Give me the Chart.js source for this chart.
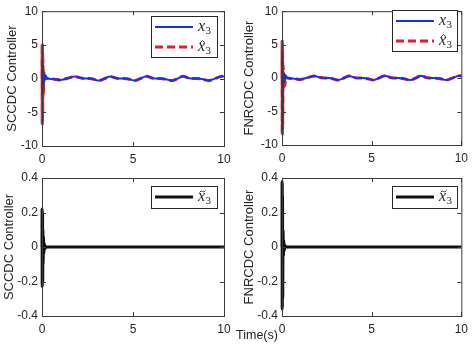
<!DOCTYPE html>
<html>
<head>
<meta charset="utf-8">
<script src="https://cdn.jsdelivr.net/npm/chart.js@4.4.1/dist/chart.umd.min.js"></script>
<style>
  html, body { margin: 0; background: #fff; }
  #wrap { position: relative; width: 474px; height: 347px; }
  #wrap canvas { position: absolute; left: 0; top: 0; }
</style>
</head>
<body>
<div id="wrap">
  <canvas id="c1" width="474" height="347"></canvas>
  <canvas id="c2" width="474" height="347"></canvas>
  <canvas id="c3" width="474" height="347"></canvas>
  <canvas id="c4" width="474" height="347"></canvas>
</div>
<script>
// tick values
const xTicks = [0, 5, 10];
const stateRange = [-10, 10];
const errorRange = [-0.4, 0.4];

// slow ripple after the start-up transient (same in both top plots)
const rippleT = [0.3, 0.6, 1.0, 1.4, 1.8, 2.2, 2.6, 2.9, 3.1, 3.4, 3.75, 4.1, 4.5, 4.8, 5.1, 5.4, 5.75, 6.1, 6.5, 6.8, 7.15, 7.45, 7.75, 8.1, 8.5, 8.85, 9.15, 9.5, 9.9, 10];
const rippleY = [0, -0.05, -0.2, 0.05, 0.3, 0.05, 0, -0.15, -0.3, -0.05, 0.3, 0.05, 0, -0.1, -0.3, 0, 0.35, 0.05, 0, -0.1, -0.3, 0, 0.35, 0.05, 0, -0.1, -0.3, 0, 0.35, 0.3];

// start-up transients
const sccdcT = [0, 0.005, 0.01, 0.015, 0.02, 0.025, 0.03, 0.035, 0.04, 0.05, 0.06, 0.07, 0.08, 0.1, 0.13, 0.16, 0.2, 0.25];
const sccdcX3 = [0, 2.8, -2.5, 2.6, -2.4, 2.5, -2.2, 2.2, -2.0, 1.8, -1.5, 1.2, -1.0, 0.8, -0.5, 0.3, 0.5, 0.1];
const sccdcX3hat = [0, 5.2, -6.7, 5.0, -6.5, 4.8, -6.2, 4.0, -5.0, 3.0, -2.5, 1.6, -2.2, 1.2, -0.5, 0.3, 0.3, 0.1];

const fnrcdcT = [0, 0.005, 0.01, 0.015, 0.02, 0.025, 0.03, 0.035, 0.04, 0.06, 0.09, 0.12, 0.16, 0.2, 0.25];
const fnrcdcX3 = [0, 4.0, -8.0, 3.8, -7.8, 3.5, -7.5, 3.0, -6.0, 1.0, -0.8, 0.6, -0.4, 0.4, 0.1];
const fnrcdcX3hat = [0, 5.5, -8.5, 5.3, -8.3, 5.0, -8.0, 4.5, -7.0, 2.0, -1.3, 0.7, -1.2, 0.3, 0.1];

// estimation error
const sccdcErrT = [0, 0.005, 0.01, 0.015, 0.02, 0.03, 0.04, 0.05, 0.06, 0.08, 0.1, 0.13, 0.16, 0.2, 0.3, 10];
const sccdcErr = [0, 0.22, -0.23, 0.21, -0.22, 0.2, -0.2, 0.1, -0.1, 0.06, -0.04, 0.02, -0.01, 0, 0, 0];
const fnrcdcErrT = [0, 0.005, 0.01, 0.015, 0.02, 0.03, 0.04, 0.06, 0.08, 0.1, 0.13, 0.16, 0.2, 0.3, 10];
const fnrcdcErr = [0, 0.38, -0.36, 0.37, -0.35, 0.3, -0.3, 0.1, -0.05, 0.04, -0.02, 0.01, 0, 0, 0];

const BLUE = '#1a2ef2';
const RED = '#f0182c';
const INK = '#262626';

Chart.defaults.font.family = '"Liberation Sans", Arial, sans-serif';
Chart.defaults.font.size = 12;
Chart.defaults.color = INK;

const toPts = (t, y) => t.map((v, i) => ({ x: v, y: y[i] }));

// MATLAB style box with inward ticks on all four sides
const boxAxes = {
  id: 'boxAxes',
  afterDatasetsDraw(chart) {
    const { ctx, chartArea: a, scales } = chart;
    ctx.save();
    ctx.strokeStyle = '#3a3a3a';
    ctx.lineWidth = 1;
    ctx.strokeRect(a.left + 0.5, a.top + 0.5, a.right - a.left, a.bottom - a.top);
    ctx.beginPath();
    scales.x.ticks.forEach(t => {
      const px = Math.round(scales.x.getPixelForValue(t.value)) + 0.5;
      ctx.moveTo(px, a.bottom); ctx.lineTo(px, a.bottom - 4);
      ctx.moveTo(px, a.top); ctx.lineTo(px, a.top + 4);
    });
    scales.y.ticks.forEach(t => {
      const py = Math.round(scales.y.getPixelForValue(t.value)) + 0.5;
      ctx.moveTo(a.left, py); ctx.lineTo(a.left + 4, py);
      ctx.moveTo(a.right, py); ctx.lineTo(a.right - 4, py);
    });
    ctx.stroke();
    ctx.restore();
  }
};

function drawSym(ctx, x, base, accent) {
  ctx.fillStyle = INK;
  ctx.font = 'italic 16px "Liberation Serif", serif';
  ctx.fillText('x', x, base);
  const wx = ctx.measureText('x').width;
  ctx.font = '11px "Liberation Serif", serif';
  ctx.fillText('3', x + wx + 0.5, base + 3);
  const cx = x + wx / 2 + 1;
  const top = base - 10;
  ctx.strokeStyle = INK;
  ctx.lineWidth = 0.9;
  ctx.beginPath();
  if (accent === 'hat') {
    ctx.moveTo(cx - 2.5, top + 2); ctx.lineTo(cx, top - 0.5); ctx.lineTo(cx + 2.5, top + 2);
  } else if (accent === 'tilde') {
    ctx.moveTo(cx - 3, top + 1.5);
    ctx.quadraticCurveTo(cx - 1.5, top - 1, cx, top + 0.5);
    ctx.quadraticCurveTo(cx + 1.5, top + 2, cx + 3, top - 0.5);
  }
  ctx.stroke();
}

// legend drawn inside the axes, upper right
const boxLegend = {
  id: 'boxLegend',
  afterDraw(chart, args, opts) {
    const { ctx } = chart;
    const [x, y, w, h] = opts.box;
    ctx.save();
    ctx.fillStyle = '#fff';
    ctx.fillRect(x, y, w, h);
    ctx.strokeStyle = INK;
    ctx.lineWidth = 1;
    ctx.strokeRect(x + 0.5, y + 0.5, w, h);
    chart.data.datasets.forEach((ds, i) => {
      const cy = y + opts.rowTop + i * 20;
      ctx.beginPath();
      ctx.setLineDash(ds.borderDash || []);
      ctx.strokeStyle = ds.borderColor;
      ctx.lineWidth = ds.borderWidth;
      ctx.moveTo(x + 4, cy);
      ctx.lineTo(x + 42, cy);
      ctx.stroke();
      ctx.setLineDash([]);
      drawSym(ctx, x + 47, cy + 4, opts.accents[i]);
    });
    if (opts.note) {
      ctx.fillStyle = INK;
      ctx.font = '12.5px "Liberation Sans", Arial, sans-serif';
      ctx.textAlign = 'center';
      ctx.textBaseline = 'middle';
      ctx.fillText(opts.note.text, opts.note.x, opts.note.y);
    }
    ctx.restore();
  }
};

const fmt = v => String(Math.abs(v) < 1e-9 ? 0 : +v.toFixed(1));

function makeChart(id, cfg) {
  return new Chart(document.getElementById(id), {
    type: 'line',
    data: { datasets: cfg.datasets },
    plugins: [boxAxes, boxLegend],
    options: {
      responsive: false,
      animation: false,
      events: [],
      layout: { padding: cfg.padding },
      elements: { point: { radius: 0 }, line: { cubicInterpolationMode: 'monotone' } },
      plugins: {
        legend: { display: false },
        tooltip: { enabled: false },
        boxLegend: cfg.legend
      },
      scales: {
        x: {
          type: 'linear', min: 0, max: 10,
          afterBuildTicks: s => { s.ticks = xTicks.map(v => ({ value: v })); },
          afterFit: s => { s.height = 20; },
          grid: { display: false, drawTicks: false }, border: { display: false },
          ticks: { padding: 6, maxRotation: 0, autoSkip: false, callback: fmt }
        },
        y: {
          min: cfg.range[0], max: cfg.range[1],
          ticks: { stepSize: cfg.step, padding: 4, callback: fmt },
          afterFit: s => { s.width = cfg.yWidth; },
          grid: { display: false, drawTicks: false }, border: { display: false },
          title: { display: true, text: cfg.yTitle, font: { size: 13 }, padding: 0 }
        }
      }
    }
  });
}

const stateLine = (t, y, color, dashed) => ({
  data: toPts(t, y),
  borderColor: color,
  borderWidth: dashed ? 3 : 2,
  borderDash: dashed ? [8, 4] : [],
  clip: false
});

const errLine = (t, y) => ({
  data: toPts(t, y), borderColor: '#111', borderWidth: 3, clip: false
});

makeChart('c1', {
  datasets: [
    stateLine(sccdcT.concat(rippleT), sccdcX3.concat(rippleY), BLUE, false),
    stateLine(sccdcT.concat(rippleT), sccdcX3hat.concat(rippleY), RED, true)
  ],
  padding: { left: 5, top: 9, right: 250, bottom: 181 },
  yWidth: 37, range: stateRange, step: 5, yTitle: 'SCCDC Controller',
  legend: { box: [151, 16, 66, 41], rowTop: 11, accents: ['', 'hat'] }
});

makeChart('c2', {
  datasets: [
    stateLine(fnrcdcT.concat(rippleT), fnrcdcX3.concat(rippleY), BLUE, false),
    stateLine(fnrcdcT.concat(rippleT), fnrcdcX3hat.concat(rippleY), RED, true)
  ],
  padding: { left: 242, top: 9, right: 9, bottom: 182 },
  yWidth: 40, range: stateRange, step: 5, yTitle: 'FNRCDC Controller',
  legend: { box: [392, 10, 65, 41], rowTop: 11, accents: ['', 'hat'] }
});

makeChart('c3', {
  datasets: [errLine(sccdcErrT, sccdcErr)],
  padding: { left: 2, top: 178, right: 250, bottom: 11 },
  yWidth: 40, range: errorRange, step: 0.2, yTitle: 'SCCDC Controller',
  legend: { box: [151, 186, 66, 22], rowTop: 11, accents: ['tilde'] }
});

makeChart('c4', {
  datasets: [errLine(fnrcdcErrT, fnrcdcErr)],
  padding: { left: 242, top: 178, right: 9, bottom: 11 },
  yWidth: 40, range: errorRange, step: 0.2, yTitle: 'FNRCDC Controller',
  legend: { box: [392, 186, 65, 22], rowTop: 11, accents: ['tilde'],
            note: { text: 'Time(s)', x: 257, y: 336 } }
});
</script>
</body>
</html>
